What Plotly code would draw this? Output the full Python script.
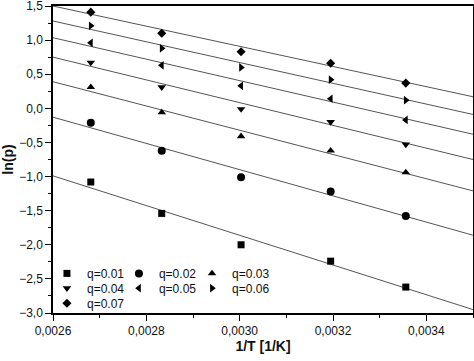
import plotly.graph_objects as go

inv_T = [0.002681, 0.002833, 0.003003, 0.003195, 0.003356]
labels = ["q=0.01", "q=0.02", "q=0.03", "q=0.04", "q=0.05", "q=0.06", "q=0.07"]
q01 = [-1.08, -1.54, -2.00, -2.24, -2.62]
q02 = [-0.21, -0.62, -1.01, -1.22, -1.58]
q03 = [0.31, -0.06, -0.41, -0.62, -0.94]
q04 = [0.67, 0.31, -0.01, -0.20, -0.53]
q05 = [0.96, 0.63, 0.33, 0.14, -0.17]
q06 = [1.21, 0.88, 0.60, 0.42, 0.12]
q07 = [1.41, 1.10, 0.83, 0.66, 0.37]
series = [q01, q02, q03, q04, q05, q06, q07]

fit_x = [0.0026, 0.0035]
fit_start = [-0.99, -0.13, 0.39, 0.75, 1.035, 1.28, 1.50]
fit_end = [-2.95, -1.86, -1.21, -0.75, -0.38, -0.09, 0.17]

symbols = ["square", "circle", "triangle-up", "triangle-down",
           "triangle-left", "triangle-right", "diamond"]
sizes = [7, 8, 7.5, 7.5, 7.5, 7.5, 7]

# legend grid: 3 columns, 3 rows (paper coords)
col_x = [-0.0144, 0.157, 0.331]
row_y = [0.129, 0.081, 0.032]

FONT = "Liberation Sans, Arial, sans-serif"

fig = go.Figure()
for i in range(7):
    fig.add_trace(go.Scatter(
        x=fit_x, y=[fit_start[i], fit_end[i]], mode="lines",
        line=dict(color="#555555", width=1), showlegend=False, hoverinfo="skip"))

legend_layouts = {}
for i in range(7):
    lid = "legend" if i == 0 else f"legend{i + 1}"
    fig.add_trace(go.Scatter(
        x=inv_T, y=series[i], mode="markers", name=labels[i],
        marker=dict(symbol=symbols[i], size=sizes[i], color="black"),
        legend=lid))
    legend_layouts[lid] = dict(
        x=col_x[i % 3], y=row_y[i // 3], xanchor="left", yanchor="middle",
        orientation="h", bgcolor="rgba(0,0,0,0)", borderwidth=0, itemwidth=30,
        font=dict(family=FONT, size=12, color="#111"))

fig.update_layout(
    width=474, height=361,
    margin=dict(l=53, r=1, t=6, b=48, autoexpand=False),
    paper_bgcolor="white", plot_bgcolor="white",
    separators=",.",
    font=dict(family=FONT, size=12, color="#111"),
    xaxis=dict(
        range=[0.0026, 0.0035], dtick=0.0002, tick0=0.0026, tickformat=".4f",
        automargin=False, ticklabeloverflow="allow",
        showgrid=False, zeroline=False, showline=True, linecolor="black",
        linewidth=1.5, mirror=True, ticks="outside", ticklen=6, tickwidth=1.2,
        tickcolor="black",
        minor=dict(dtick=0.0001, ticks="outside", ticklen=3, tickwidth=1, tickcolor="black"),
        tickfont=dict(family=FONT, size=12, color="#111"),
        title=dict(text="<b>1/T [1/K]</b>", font=dict(family=FONT, size=14, color="#111"),
                   standoff=4),
    ),
    yaxis=dict(
        range=[-3.0, 1.5], dtick=0.5, tick0=0, tickformat=".1f",
        automargin=False, ticklabeloverflow="allow",
        showgrid=False, zeroline=False, showline=True, linecolor="black",
        linewidth=1.5, mirror=True, ticks="outside", ticklen=6, tickwidth=1.2,
        tickcolor="black",
        minor=dict(dtick=0.25, ticks="outside", ticklen=3, tickwidth=1, tickcolor="black"),
        tickfont=dict(family=FONT, size=12, color="#111"),
        title=dict(text="<b>ln(p)</b>", font=dict(family=FONT, size=14, color="#111"),
                   standoff=8),
    ),
    **legend_layouts,
)

fig.write_html("out.html",
               config={"displayModeBar": False},
               post_script="document.body.style.margin='0';document.body.style.overflow='hidden';")
